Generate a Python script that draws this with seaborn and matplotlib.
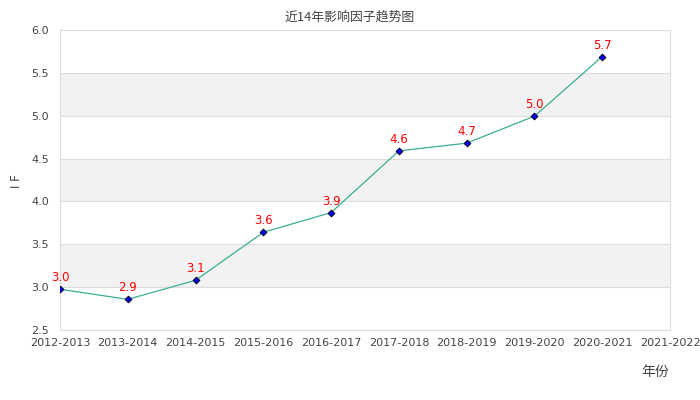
import numpy as np
import pandas as pd
import matplotlib
matplotlib.use('Agg')
import matplotlib.pyplot as plt
import seaborn as sns

years = ['2012-2013', '2013-2014', '2014-2015', '2015-2016', '2016-2017',
         '2017-2018', '2018-2019', '2019-2020', '2020-2021', '2021-2022']
impact = [2.975, 2.858, 3.08, 3.64, 3.87, 4.59, 4.68, 4.995, 5.69, np.nan]
y_ticks = [2.5, 3.0, 3.5, 4.0, 4.5, 5.0, 5.5, 6.0]

sns.set_style('white')
plt.rcParams['font.family'] = ['DejaVu Sans', 'Noto Sans CJK SC']

df = pd.DataFrame({'pos': range(len(years)), 'IF': impact})

fig = plt.figure(figsize=(7, 4), dpi=100)
ax = fig.add_axes([60 / 700, 70 / 400, 610 / 700, 300 / 400])

# alternating bands + grid lines
for i in range(len(y_ticks) - 1):
    if i % 2 == 1:
        ax.axhspan(y_ticks[i], y_ticks[i + 1], color='#f2f2f2', zorder=0, lw=0)
for t in y_ticks:
    ax.axhline(t, color='#dddddd', lw=0.8, zorder=1)

sns.lineplot(data=df.dropna(), x='pos', y='IF', ax=ax, color='#3aae94', lw=0.9,
             marker='D', markersize=3.5, markerfacecolor='blue',
             markeredgecolor='black', markeredgewidth=0.6, zorder=3)

for x, v in zip(df['pos'], df['IF']):
    if not np.isnan(v):
        ax.annotate(f'{v:.1f}', (x, v), xytext=(0, 3.5), textcoords='offset points',
                    ha='center', va='bottom', color='red', fontsize=8.5, zorder=4)

ax.set_xlim(0, len(years) - 1)
ax.set_ylim(2.5, 6.0)
ax.set_xticks(df['pos'])
ax.set_xticklabels(years)
ax.set_yticks(y_ticks)
ax.set_yticklabels([f'{t:.1f}' for t in y_ticks])
ax.tick_params(axis='both', labelsize=8, colors='#444444', length=0)
ax.tick_params(axis='x', pad=6)
ax.tick_params(axis='y', pad=8)

for s in ax.spines.values():
    s.set_color('#dddddd')
    s.set_linewidth(0.8)

ax.set_xlabel('')
ax.set_ylabel('')
fig.text(17 / 700, 1 - 181 / 400, 'I F', ha='center', va='center', fontsize=8.5,
         color='#444444', rotation=90)
fig.text(655 / 700, 1 - 372 / 400, '年份', ha='center', va='center', fontsize=10,
         color='#444444', family=['Noto Sans CJK SC', 'DejaVu Sans'])
fig.text(0.5, 1 - 17 / 400, '近14年影响因子趋势图', ha='center', va='center', fontsize=9.3,
         color='#444444', family=['Noto Sans CJK SC', 'DejaVu Sans'])

fig.savefig('out.png', dpi=100)
